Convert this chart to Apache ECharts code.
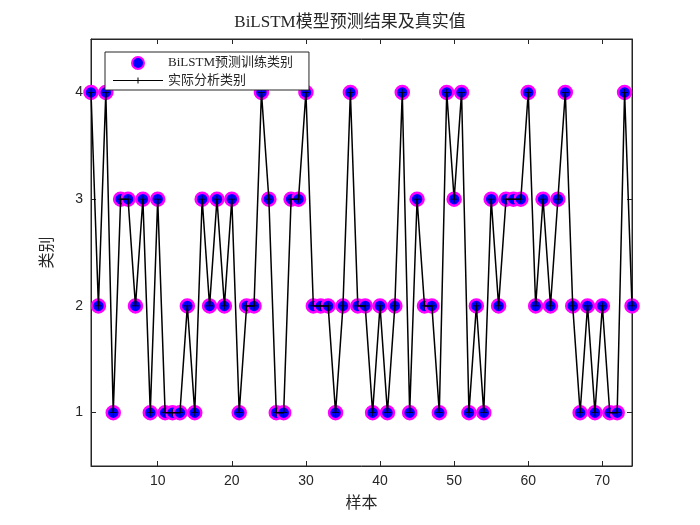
<!DOCTYPE html>
<html><head><meta charset="utf-8">
<script src="https://cdn.jsdelivr.net/npm/echarts@6/dist/echarts.min.js"></script>
</head><body style="margin:0">
<div id="c" style="width:700px;height:525px"></div>
<script>
const predicted = [4,2,4,1,3,3,2,3,1,3,1,1,1,2,1,3,2,3,2,3,1,2,2,4,3,1,1,3,3,4,2,2,2,1,2,4,2,2,1,2,1,2,4,1,3,2,2,1,4,3,4,1,2,1,3,2,3,3,3,4,2,3,2,3,4,2,1,2,1,2,1,1,4,2];
const actual = predicted.slice();
const xTicks = [10,20,30,40,50,60,70];
const yTicks = [1,2,3,4];
const title = 'BiLSTM模型预测结果及真实值';
const font = '"Liberation Serif", "Noto Sans CJK SC", serif';
const ch = echarts.init(document.getElementById('c'));
const mk = a => a.map((v,i)=>[i+1,v]);
const axBase = {type:'value', axisLine:{show:true,onZero:false,lineStyle:{color:'#262626'}}, splitLine:{show:false}};
ch.setOption({
  animation:false,
  backgroundColor:'#fff',
  title:{text:title,left:'center',top:9,textStyle:{fontSize:17,fontWeight:'normal',color:'#262626',fontFamily:font}},
  grid:{left:91,right:68,top:39,bottom:59,show:true,borderColor:'#262626',borderWidth:1},
  legend:{orient:'vertical',left:105,top:52,itemGap:4,padding:[4,16,3,8],borderColor:'#262626',borderWidth:1,borderRadius:0,backgroundColor:'#fff',
    textStyle:{fontSize:13,color:'#262626',fontFamily:font},itemWidth:50,itemHeight:12,
    data:[{name:'BiLSTM预测训练类别',icon:'circle'},{name:'实际分析类别',icon:'path://M0,5.5L50,5.5L50,6.5L0,6.5Z M24.5,3L25.5,3L25.5,9L24.5,9Z'}]},
  xAxis:[Object.assign({},axBase,{min:1,max:74,name:'样本',nameLocation:'middle',nameGap:30,
    nameTextStyle:{fontSize:16,color:'#262626',fontFamily:font},
    axisTick:{inside:true,length:5,customValues:xTicks,lineStyle:{color:'#262626'}},
    axisLabel:{customValues:xTicks,fontSize:14,color:'#262626',fontFamily:'Liberation Sans'}}),
    Object.assign({},axBase,{position:'top',min:1,max:74,axisTick:{inside:true,length:5,customValues:xTicks},axisLabel:{show:false}})],
  yAxis:[Object.assign({},axBase,{min:0.5,max:4.5,name:'类别',nameLocation:'middle',nameGap:35,
    nameTextStyle:{fontSize:16,color:'#262626',fontFamily:font},
    axisTick:{inside:true,length:5,customValues:yTicks,lineStyle:{color:'#262626'}},
    axisLabel:{customValues:yTicks,fontSize:14,color:'#262626',fontFamily:'Liberation Sans'}}),
    Object.assign({},axBase,{position:'right',min:0.5,max:4.5,axisTick:{inside:true,length:5,customValues:yTicks},axisLabel:{show:false}})],
  series:[
    {name:'BiLSTM预测训练类别',type:'scatter',data:mk(predicted),symbolSize:13,
      itemStyle:{color:'#0000ff',borderColor:'#ff00ff',borderWidth:2.5,opacity:1},z:2},
    {name:'实际分析类别',type:'line',data:mk(actual),symbol:'path://M0,4.5L10,4.5L10,5.5L0,5.5Z M4.5,0L5.5,0L5.5,10L4.5,10Z',symbolSize:7,
      lineStyle:{color:'#000',width:1.5},itemStyle:{color:'#000'},z:3}
  ]
});
</script></body></html>
